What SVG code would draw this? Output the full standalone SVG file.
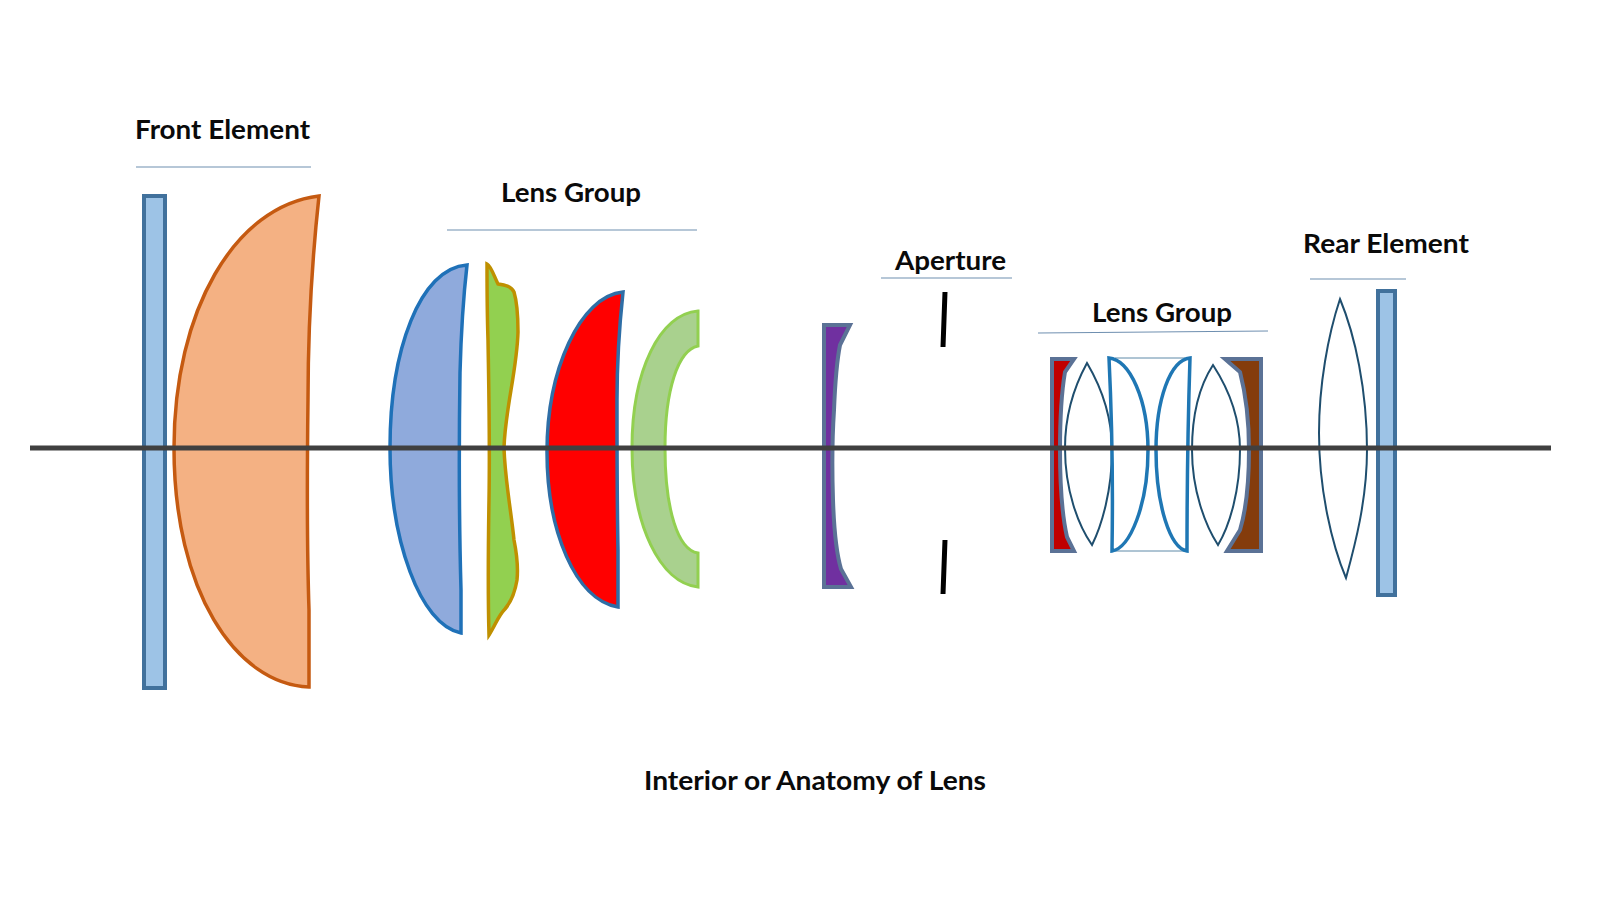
<svg xmlns="http://www.w3.org/2000/svg" width="1600" height="900" viewBox="0 0 1600 900">
<style>
.t{font-family:"Lato","Liberation Sans",sans-serif;font-weight:700;font-size:26px;fill:#0a0a0a}
.u{stroke:#6f8fb0;stroke-width:1.2;fill:none}
.rect{fill:#9dc3e6;stroke:#41719c;stroke-width:4}
.dark{stroke:#5b7296;stroke-width:4;stroke-linejoin:miter}
.thin{fill:none;stroke:#1f4e6e;stroke-width:2}
.blue{fill:none;stroke:#1f77b4;stroke-width:3.5}
</style>
<rect width="1600" height="900" fill="#fff"/>
<g id="front-element">
<rect class="rect" x="144" y="196" width="21" height="492"/>
<path d="M319 196C235 206 174 310 174 448C174 590 235 684 309 687L309 610C307 550 307 480 308 400C308 330 312 260 319 196Z" fill="#f4b183" stroke="#c55a11" stroke-width="3.5"/>
<text class="t" x="135" y="139" textLength="175" lengthAdjust="spacingAndGlyphs">Front Element</text>
<line class="u" x1="136" y1="167" x2="311" y2="167"/>
</g>
<g id="lens-group-1">
<path d="M467 265C420 268 390 350 390 448C390 540 420 625 461 633L461 590C459 520 459 440 460 373C461 335 463 300 467 265Z" fill="#8faadc" stroke="#1f71b8" stroke-width="3.5"/>
<path d="M487 264C491 266 494 276 498 284C505 285 511 286 514 292C517 302 518 318 518 332C517 370 505 410 504 448C505 480 511 510 514 540C517 555 518 570 517 580C515 592 511 602 505 609C498 616 495 626 489 635C488 600 488 560 489 500C490 440 489 400 488 340C487 310 487 290 487 264Z" fill="#92d050" stroke="#bf9000" stroke-width="3.5"/>
<path d="M623 292C580 296 547 370 547 452C547 530 575 600 618 607L618 550C617 500 617 440 617 400C617 360 620 320 623 292Z" fill="#ff0000" stroke="#2e6ea6" stroke-width="3.5"/>
<path d="M698 311C660 314 632 370 632 448C632 525 660 583 698 587L698 553C678 550 665 510 665 448C665 390 678 350 698 346Z" fill="#a9d18e" stroke="#92d050" stroke-width="3"/>
<text class="t" x="501" y="202" textLength="140" lengthAdjust="spacingAndGlyphs">Lens Group</text>
<line class="u" x1="447" y1="230" x2="697" y2="230"/>
</g>
<g id="mid-element">
<path d="M824 325L850 325L840 345C836 365 835 385 834 410C832 440 832 470 833 500C834 530 836 552 841 569L851 587L824 587Z" fill="#7030a0" class="dark"/>
</g>
<g id="aperture">
<path d="M945 292L943 347M945 540L943 594" stroke="#000" stroke-width="5" fill="none"/>
<text class="t" x="895" y="270" textLength="111" lengthAdjust="spacingAndGlyphs">Aperture</text>
<line class="u" x1="881" y1="278" x2="1012" y2="278"/>
</g>
<g id="lens-group-2">
<path d="M1052 359L1074 359L1065 372C1061 395 1060 425 1060 450C1060 480 1062 515 1067 537L1074 551L1052 551Z" fill="#c00000" class="dark"/>
<path d="M1087 363C1100 385 1112 415 1112 450C1112 490 1102 525 1092 545C1078 525 1065 490 1065 448C1065 415 1075 385 1087 363Z" class="thin"/>
<path d="M1115 358H1185M1115 551H1185" stroke="#5f8aa8" stroke-width="1" fill="none"/>
<path d="M1109 358C1130 360 1148 400 1148 450C1148 505 1130 548 1112 551C1113 490 1112 420 1109 358Z" class="blue"/>
<path d="M1190 358C1170 360 1156 400 1156 450C1156 505 1170 548 1187 551C1187 490 1188 420 1190 358Z" class="blue"/>
<path d="M1213 365C1200 385 1192 415 1192 450C1192 490 1205 525 1218 545C1230 525 1240 490 1240 450C1240 415 1226 385 1213 365Z" class="thin"/>
<path d="M1261 359H1225L1240 372C1246 395 1249 425 1249 450C1249 480 1246 510 1240 530L1227 551H1261Z" fill="#843c0c" class="dark"/>
<text class="t" x="1092" y="322" textLength="140" lengthAdjust="spacingAndGlyphs">Lens Group</text>
<line class="u" x1="1038" y1="333" x2="1268" y2="331"/>
</g>
<g id="rear-element">
<path d="M1340 299C1355 335 1367 390 1367 450C1367 500 1355 545 1346 578C1332 545 1319 490 1319 433C1319 385 1328 335 1340 299Z" class="thin"/>
<rect class="rect" x="1378" y="291" width="17" height="304"/>
<text class="t" x="1303" y="253" textLength="166" lengthAdjust="spacingAndGlyphs">Rear Element</text>
<line class="u" x1="1310" y1="279" x2="1406" y2="279"/>
</g>
<g id="connectors">
<line id="axis" x1="30" y1="448" x2="1551" y2="448" stroke="#404040" stroke-width="5"/>
</g>
<g id="caption">
<text class="t" x="644" y="790" textLength="342" lengthAdjust="spacingAndGlyphs">Interior or Anatomy of Lens</text>
</g>
</svg>
